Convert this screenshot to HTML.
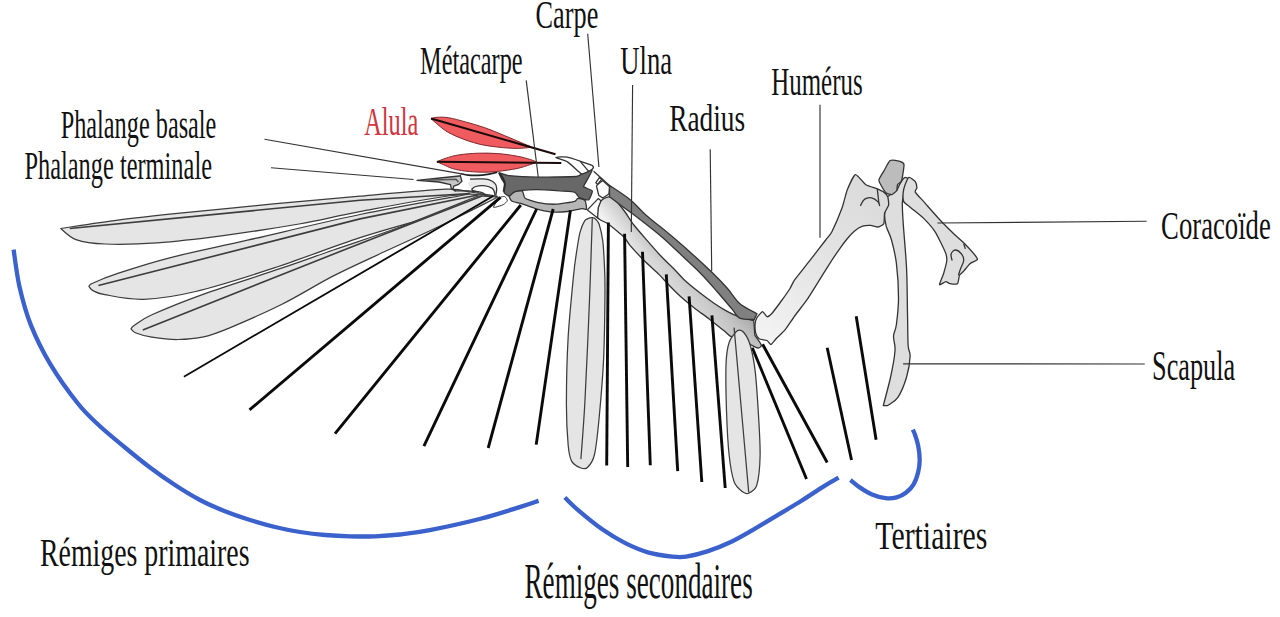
<!DOCTYPE html>
<html lang="fr"><head><meta charset="utf-8"><title>Aile d'oiseau</title>
<style>
html,body{margin:0;padding:0;background:#fff;}
body{width:1280px;height:617px;overflow:hidden;font-family:"Liberation Serif",serif;}
svg{display:block;}
text{font-family:"Liberation Serif",serif;font-size:40px;fill:#111;}
</style></head><body>
<svg width="1280" height="617" viewBox="0 0 1280 617">
<defs>
<linearGradient id="gUlna" gradientUnits="userSpaceOnUse" x1="600" y1="205" x2="750" y2="330"><stop offset="0" stop-color="#ffffff"/><stop offset="0.12" stop-color="#f4f4f4"/><stop offset="0.35" stop-color="#e0e0e0"/><stop offset="0.7" stop-color="#d4d4d4"/><stop offset="1" stop-color="#c8c8c8"/></linearGradient>
<linearGradient id="gUlna2" gradientUnits="userSpaceOnUse" x1="637" y1="260" x2="655.4" y2="237.6"><stop offset="0" stop-color="#000" stop-opacity="0"/><stop offset="0.4" stop-color="#000" stop-opacity="0.04"/><stop offset="1" stop-color="#000" stop-opacity="0.17"/></linearGradient>
<linearGradient id="gHum" gradientUnits="userSpaceOnUse" x1="760" y1="330" x2="885" y2="190"><stop offset="0" stop-color="#f2f2f2"/><stop offset="0.5" stop-color="#e4e4e4"/><stop offset="1" stop-color="#dadada"/></linearGradient>
</defs>
<rect width="1280" height="617" fill="#fff"/>

<g id="primaries" fill="#e5e5e5" stroke="#3c3c3c" stroke-width="1.25" stroke-linejoin="round">
<path d="M60.7,228.5C68.3,227.4 101.9,222.2 117.8,220.2C133.7,218.2 159.3,215.4 180,213.2C200.7,211 249.4,206.2 273.4,203.9C297.4,201.6 337,198.1 360,196.1C383,194.1 431.3,189.7 446,189.2C460.7,188.7 466.8,191.6 470,192L497,196L497,196C489.5,195.9 474.8,192.9 452,195.5C429.2,198.1 385.5,206.8 360,211.6C334.5,216.3 322.1,220 299,224C275.9,228 245.2,232.7 221.5,235.8C197.8,238.9 176.4,241.4 157,242.8C137.6,244.2 118.5,244.5 105,244C91.5,243.5 83.4,242.2 76,239.6C68.6,237 63.2,230.3 60.7,228.5Z"/>
<path d="M69.8,228.5L360,200.2L470,193.5" fill="none" stroke-width="1.6"/>
<path d="M89,286.6C89.6,286.1 87.7,285.5 92.5,283.3C97.3,281.1 104.9,277.6 117.8,273.4C130.7,269.1 148.1,263.3 169.7,257.8C191.3,252.3 215.8,247.4 247.5,240.2C279.2,233 322.9,222.2 360,214.5C397.1,206.8 451.7,197.4 470,194L497,196.5L497,196.5C485.8,199.9 452.8,210.2 430,217C407.2,223.8 386.1,229.1 360,237.6C333.9,246.1 300.8,259.2 273.4,268.2C246,277.2 217.2,286.3 195.6,291.5C174,296.7 158.8,298.8 143.7,299.3C128.6,299.8 113.2,296.1 104.8,294.6C96.3,293.2 95.6,291.9 93,290.6C90.4,289.3 89.7,287.3 89,286.6Z"/>
<path d="M98.4,285.5L360,218.9L478,195" fill="none" stroke-width="1.6"/>
<path d="M131,328.8C131.6,328.2 131,327.5 134.5,325.2C138,322.9 140.4,320 151.9,314.8C163.4,309.6 182.1,301.9 203.7,294.1C225.3,286.3 259.9,275.6 281.5,268.2C303.1,260.8 313.6,256.9 333.4,250C353.1,243.1 375.9,236 400,227C424.1,218 465,201.2 478,196L498,197L498,197C488.3,201.8 458.8,216.9 440,226C421.2,235.1 403.1,243 385.3,251.3C367.5,259.6 350.7,267 333.4,275.9C316.1,284.8 298.8,295.9 281.5,304.5C264.2,313.1 242.7,322.4 229.7,327.8C216.7,333.2 212.3,334.9 203.7,336.9C195,338.8 186.4,339.4 177.8,339.5C169.2,339.6 158.9,338.3 151.9,337.2C144.9,336.1 139.5,334.4 136,333C132.5,331.6 131.8,329.5 131,328.8Z"/>
<path d="M142.8,329.9L343.8,250L482,196" fill="none" stroke-width="1.6"/>
</g>
<g fill="#e5e5e5" stroke="#3c3c3c" stroke-width="1.25">
<path d="M592.4,217.7C591.3,217.6 589.1,218.1 588,218.6C586.9,219.1 585.6,219.3 584.5,221.1C583.4,222.9 581.1,228.3 580,232.4C578.9,236.5 577.5,246 576.6,251.7C575.7,257.4 574.7,263.7 573.6,275C572.5,286.3 569.2,319.1 568.2,336.4C567.2,353.7 566.4,390 566.4,404.5C566.4,419 567.5,437.9 568.2,445.5C568.9,453.1 570.1,458.4 571.8,461.4C573.5,464.4 578.8,467.2 580.9,468C583,468.8 585.9,469.1 587.7,467.3C589.5,465.5 593,461 594.5,454.5C596,448 597.9,430.9 599.1,418.2C600.3,405.5 602.8,376.1 603.6,359.1C604.4,342.1 604.9,303.4 605,290.9C605.1,278.4 604.7,271.7 604.4,265C604.1,258.3 603.4,245.8 602.7,240.4C602,235 600.1,227.3 599.2,224.5C598.3,221.7 596.9,220.4 596,219.5C595.1,218.6 593.5,217.8 592.4,217.7Z"/>
<path d="M592.3,218.2C591.8,231.8 590.7,269.7 589.5,300C588.3,330.3 586.4,373.5 585,400C583.6,426.5 581.6,449.2 580.9,459.1" fill="none"/>
</g>
<g id="bones" stroke="#333333" stroke-width="1.3" stroke-linejoin="round">
<path d="M596.5,217C596.7,215.8 597.6,209.9 598.2,207.7C598.8,205.5 599.6,202.2 601,200.8C602.4,199.4 606.7,197.2 608.4,196.9C610.1,196.6 612.7,197.7 614,198.6C615.3,199.5 617,201.6 618.5,203.5C620,205.4 623.3,209.6 625.4,212.5C627.5,215.4 631.3,221.7 633.9,225C636.5,228.3 641.2,233.7 644.6,237.6C648,241.5 655.3,250 659.2,254.2C663.1,258.4 670.4,265.4 673.8,268.8C677.2,272.2 681,276.8 684.4,280C687.8,283.2 695.6,289.5 699.5,292.6C703.4,295.7 710.4,300.8 714,303.3C717.6,305.8 723.4,309.3 726.7,311.1C730,312.9 734.8,315.2 738.4,316.5C742,317.8 751.7,320.1 753.8,320.6L754.9,335.4L754.9,335.4C755.7,336.7 760.8,343.2 761.2,344.9C761.6,346.6 759.5,348.1 758,348C756.5,347.9 751.3,345.1 749.6,343.8C747.9,342.5 747.1,338.9 745.4,338C743.7,337.1 739,337.2 737,337C735,336.8 732.4,337.3 730.6,336.4C728.8,335.5 726.7,332.9 723.8,330.6C720.9,328.3 713.1,321.9 709.2,318.9C705.3,315.9 698.5,311.3 694.6,308.2C690.7,305.1 683.4,299.1 680,296C676.6,292.9 671.7,287.9 668.9,285C666.1,282.1 662.4,277.8 659.2,274.6C656,271.4 648.5,264.9 644.6,261C640.7,257.1 632.6,248.5 630,245.4C627.4,242.3 626.7,239.9 625,238.1C623.3,236.3 619.8,233.5 617.6,231.6C615.4,229.7 610.6,225.5 608.3,224C606,222.5 602.1,220.9 600.5,220C598.9,219.1 597,217.4 596.5,217Z" fill="url(#gUlna)" stroke="none"/>
<path d="M596.5,217C596.7,215.8 597.6,209.9 598.2,207.7C598.8,205.5 599.6,202.2 601,200.8C602.4,199.4 606.7,197.2 608.4,196.9C610.1,196.6 612.7,197.7 614,198.6C615.3,199.5 617,201.6 618.5,203.5C620,205.4 623.3,209.6 625.4,212.5C627.5,215.4 631.3,221.7 633.9,225C636.5,228.3 641.2,233.7 644.6,237.6C648,241.5 655.3,250 659.2,254.2C663.1,258.4 670.4,265.4 673.8,268.8C677.2,272.2 681,276.8 684.4,280C687.8,283.2 695.6,289.5 699.5,292.6C703.4,295.7 710.4,300.8 714,303.3C717.6,305.8 723.4,309.3 726.7,311.1C730,312.9 734.8,315.2 738.4,316.5C742,317.8 751.7,320.1 753.8,320.6L754.9,335.4L754.9,335.4C755.7,336.7 760.8,343.2 761.2,344.9C761.6,346.6 759.5,348.1 758,348C756.5,347.9 751.3,345.1 749.6,343.8C747.9,342.5 747.1,338.9 745.4,338C743.7,337.1 739,337.2 737,337C735,336.8 732.4,337.3 730.6,336.4C728.8,335.5 726.7,332.9 723.8,330.6C720.9,328.3 713.1,321.9 709.2,318.9C705.3,315.9 698.5,311.3 694.6,308.2C690.7,305.1 683.4,299.1 680,296C676.6,292.9 671.7,287.9 668.9,285C666.1,282.1 662.4,277.8 659.2,274.6C656,271.4 648.5,264.9 644.6,261C640.7,257.1 632.6,248.5 630,245.4C627.4,242.3 626.7,239.9 625,238.1C623.3,236.3 619.8,233.5 617.6,231.6C615.4,229.7 610.6,225.5 608.3,224C606,222.5 602.1,220.9 600.5,220C598.9,219.1 597,217.4 596.5,217Z" fill="url(#gUlna2)"/>
<path d="M609.5,185.4C613,187.8 624.5,195.1 630.5,200C636.5,204.9 639.3,209.3 645.8,215C652.2,220.7 661.7,227.7 669.2,234C676.7,240.3 683.7,246.3 691,252.9C698.3,259.4 706.8,267.4 712.9,273.3C719,279.2 723,283.5 727.5,288.5C732,293.5 734.7,299.3 739.6,303.5C744.5,307.7 754.1,312 757,313.7L754.1,319.6L754.1,319.6C751.7,319.4 743.2,319.8 739.6,318.1C736,316.4 736.1,313.8 732.3,309.4C728.5,305 722.2,297.4 717,291.5C711.8,285.6 706.8,279.7 701.2,274C695.7,268.3 690.2,263.5 683.7,257.3C677.2,251.1 669.2,243.2 661.9,236.9C654.6,230.6 646.6,224.5 640,219.4C633.4,214.3 627.5,210.3 622.4,206.5C617.3,202.7 611.6,198.4 609.5,196.8Z" fill="#808080"/>
<path d="M887,197C886.6,200 884.7,209.9 884.6,214.8C884.5,219.7 885.1,222 886.2,226.2C887.4,230.4 889.8,233.8 891.5,240C893.2,246.2 895.2,253.6 896.4,263.3C897.6,273 898.5,288.1 898.5,298.3C898.5,308.5 897.2,318.2 896.4,324.5C895.6,330.8 893.7,331.8 893.5,336.2C893.3,340.6 895.5,344 895,350.8C894.5,357.6 892.6,367.9 890.6,377C888.6,386.1 884.5,400.8 883.3,405.6L887.7,405.6L887.7,405.6C889.4,404.2 894.8,402.2 897.9,397.4C901,392.6 904.6,383.8 906.6,377C908.6,370.2 909.9,361.9 910.1,356.6C910.4,351.3 908.5,352.3 908.1,345C907.7,337.7 907.8,325.5 907.5,312.9C907.2,300.3 907.3,284.2 906.6,269.2C905.9,254.2 903.9,234.1 903.2,222.9C902.5,211.7 902.1,207.3 902.4,201.9C902.7,196.5 903.8,194.2 904.8,190.5C905.8,186.8 908.1,182.2 908.1,180C908.1,177.8 906,177.2 904.8,177.6C903.6,178 902.1,180.2 900.8,182.4C899.4,184.6 897.4,189.2 896.7,190.5Z" fill="#dedede"/>
<path d="M908.9,177.4C909.9,177.1 914.5,180.5 915.3,181.6C916.1,182.7 916.9,186.8 916.9,187.9C916.9,189 914.6,190.7 915.3,192.1C916,193.5 921.2,198.8 923.7,201.6C926.2,204.4 937.5,217.3 940.5,220.5C943.5,223.7 950.8,230.9 953.2,233.2C955.6,235.5 962.6,241.6 964.7,243.7C966.8,245.8 972.9,252.6 974.2,254.2C975.5,255.8 977.8,258.6 977.4,259.5C977,260.4 971.4,262.5 970,263.7C968.6,264.9 964.8,269.9 963.7,271.1C962.7,272.3 960.1,274 959.5,275.3C958.9,276.6 958.4,282.9 957.4,283.7C956.4,284.5 951.2,283.9 950,283.7C948.8,283.5 946.8,281.5 945.8,281.6C944.8,281.7 939.7,285.5 939.5,284.7C939.3,283.9 943,275.6 943.7,273.2C944.4,270.8 946.6,262.6 946.8,260.5C946.9,258.4 946.4,254.9 945.2,252.1C944.1,249.3 937.4,235.5 935.3,232.1C933.1,228.7 926.1,220.8 923.7,218.4C921.3,216 913.1,209.6 911.1,207.9C909.1,206.2 904.5,203.1 903.7,201.6C902.9,200.1 903,194.9 903.1,193.2C903.2,191.5 904.4,186.6 905,185C905.6,183.4 907.9,177.7 908.9,177.4Z" fill="#dedede"/>
<path d="M952.1,260.5C951.9,259.4 950.6,255.9 951.1,254.2C951.6,252.4 953.5,250 955.3,250C957,250 960.2,252.4 961.6,254.2C963,255.9 963.9,258.1 963.7,260.5C963.5,262.9 961.4,266.4 960.5,268.9C959.6,271.4 958.8,274.2 958.4,275.3" fill="none"/>
<path d="M963.7,243.7L965.4,248.9" fill="none"/>
<path d="M756.8,317.8C757.5,316.7 761.6,311.7 762.5,311.6C763.4,311.5 766.2,316.5 767,316.7C767.8,316.9 770.4,315.1 771.6,313.8C772.8,312.5 778.9,304.3 780.6,302C782.3,299.7 788.4,291 789.7,289C791,287 792.8,282.4 794.6,279.9C796.4,277.4 806.3,265.1 809.2,261.4C812.1,257.7 823.6,242.7 825.7,240C827.8,237.3 830.4,234.7 831.9,231.7C833.4,228.7 840.7,211.6 842.1,207.8C843.5,204 846,193 847.2,190C848.4,187 853.7,175.1 855.4,174.6C857.1,174.1 863.9,183.5 865.9,184.8C867.9,186.1 875.7,188.2 877.3,188.9C878.9,189.6 882.8,191.4 883.8,192.1C884.8,192.8 887.4,195.8 887.8,197C888.2,198.2 888.9,203.6 888.6,205.1C888.3,206.6 885,211.5 884.6,213.2C884.2,214.9 884.4,222.4 883.8,223.7C883.2,225 879.3,226.8 878.1,227C876.9,227.2 872.2,225.5 870.8,225.4C869.4,225.3 864.2,225.7 862.7,226.2C861.2,226.7 856,229.8 854.6,231C853.2,232.2 848.3,237.4 847,239C845.7,240.6 841.7,245.9 840,248.3C838.3,250.7 830.5,262.3 828.6,265.3C826.7,268.3 820.9,277.7 818.9,280.9C816.9,284.1 808.9,297.1 806.7,300.2C804.5,303.3 797.4,312.3 795.4,315C793.4,317.7 787,327.5 785.2,329.7C783.4,331.9 777.4,337.4 776.1,338.8C774.8,340.2 771.8,344.3 771,344.5C770.2,344.7 768.1,341 767,340.5C765.9,340 760.1,339.5 759.1,338.8C758.1,338.1 756.1,334.5 755.7,333.1C755.3,331.7 755,325.4 755.1,324C755.2,322.6 756.1,318.9 756.8,317.8Z" fill="url(#gHum)"/>
<path d="M860.3,205.9C861,204.8 862.4,200.8 864.3,199.4C866.2,198.1 869.3,197.4 871.6,197.8C873.9,198.2 876.8,200.6 878.1,201.9C879.5,203.2 879.4,205.2 879.7,205.9" fill="none"/>
<path d="M877.3,188.9L878.9,203.5" fill="none"/>
<path d="M890.2,160.5C891.8,159.5 898.6,160.9 900,161.3C901.4,161.7 903.8,162.7 904,164.6C904.2,166.5 902.2,178.8 901.6,180.8C901,182.8 898,183.8 897.5,184.8C897,185.8 897.3,189.5 896.7,190.5C896.1,191.5 892.9,194.4 891.9,194.6C890.9,194.8 887.3,193.8 886.2,192.9C885.1,192 882,187 881.3,185.7C880.6,184.4 878.6,181.5 878.9,180C879.1,178.5 882.7,173 883.8,171.1C884.9,169.2 888.6,161.5 890.2,160.5Z" fill="#bcbcbc"/>
<path d="M509.2,196.2C509.4,195.2 513,192.3 514.3,191.8C515.6,191.3 521.2,190.3 522.3,191C523.4,191.7 523.6,197.1 525.2,198.3C526.8,199.5 535.2,202.1 538.3,202.7C541.4,203.3 552.1,204.3 555.8,204.2C559.4,204.1 572.6,201.9 574.8,201.3C577,200.7 576.7,198.4 577.7,198.3C578.7,198.2 584.1,199.4 585,200.5C585.9,201.6 586.8,208.5 586.5,209.3C586.2,210.1 584,208.4 582.1,208.6C580.2,208.8 570.7,211.2 567.5,211.5C564.3,211.8 553.2,212.1 550,211.8C546.8,211.5 538.3,209.4 535.4,208.6C532.5,207.8 523.1,204.1 520.8,203.4C518.5,202.7 513.3,202 512.1,201.3C510.9,200.6 509,197.1 509.2,196.2Z" fill="#b6b6b6"/>
<path d="M499,172.8C499.5,172.5 506.3,175.4 509.2,175.7C512.1,176 533.3,177.1 538.3,177.2C543.3,177.3 573,176.8 576.3,176.5C579.6,176.2 580.9,174.3 582.1,173.8C583.3,173.3 592.1,169.2 592.3,169.9C592.5,170.7 585.7,182.5 585,183.8C584.3,185.1 583.1,186.2 583.6,186.7C584.1,187.2 591.9,190 592.3,191C592.7,192 589.7,199.3 588.7,199.8C587.7,200.3 580.1,198 579.2,197.6C578.3,197.2 577.4,195.1 577,194.7C576.6,194.3 576.3,192.2 573.4,191.8C570.5,191.4 542.1,189.7 538.3,189.6C534.5,189.5 524.1,190.1 522.3,190.3C520.5,190.5 515.3,191.4 514.3,191.8C513.3,192.2 510,196.1 509.2,196.2C508.4,196.3 504.4,193.4 504.1,192.5C503.8,191.6 505,184.8 504.8,183.8C504.6,182.8 502.3,180.2 501.9,179.4C501.5,178.6 498.5,173.1 499,172.8Z" fill="#686868"/>
<path d="M555.8,157.5C555.8,157 564.4,156.7 567.5,157.2C570.6,157.7 579.2,160.9 582.1,161.9C585,162.9 591,164.7 592.3,165.5C593.6,166.3 593.4,167.7 593,168.4C592.6,169.1 590,170.8 588.7,171.4C587.4,172 583.2,173.7 582.1,173.8C581,173.9 580.9,173.5 579.2,172.1C577.5,170.7 570.2,163.6 567.5,161.9C564.8,160.2 555.8,158 555.8,157.5Z" fill="#fff"/>
<path d="M580.6,161.9L588.7,171.4" fill="none"/>
<path d="M593.6,171.3L609.5,185.5" fill="none"/>
<path d="M597.6,184.4L602.7,180.4L609.5,186.7L608.9,194L602.7,198L598.7,195.2L596.5,186.1Z" fill="#fff"/>
<path d="M595.9,182.7L599.3,177.6L601.6,179.3L597.6,184.4Z" fill="#fff"/>
<path d="M587.4,209.9L598.2,198.6L601,200.8L598.2,207.7L597.6,217.9Z" fill="#fff"/>
<path d="M417,180.4L440,178L459.3,176L460.3,175.5L461.9,181.2L458.6,184.4L453.8,186.1L453,188.9L455.4,190.9L451.3,188.6L450.5,184.6L438.9,182Z" fill="#c6c6c6"/>
<path d="M426,180.3L456,179.3L458.5,182" fill="none" stroke="#555" stroke-width="1.6"/>
<path d="M453,188.9L455.4,190.9L468.4,190.9L479,192" fill="none"/>
<path d="M470,179.2C471.7,179.1 476.9,178.8 480,178.9C483.1,179 486.1,178.8 488.6,179.6C491.1,180.4 493.8,182.1 495.1,183.6C496.5,185.1 496.6,186.6 496.7,188.5C496.8,190.4 496,193.9 495.9,195L495.1,195.8C495,195.1 494.8,193 494.3,191.7C493.8,190.4 493.6,189.1 491.9,188.1C490.1,187.1 486.5,186 483.8,185.7C481.1,185.4 477.7,185.9 475.7,186.5C473.7,187.1 472.3,188.8 471.6,189.3L468,184Z" fill="#ebebeb" stroke="none"/>
<path d="M470,179.2C471.7,179.1 476.9,178.8 480,178.9C483.1,179 486.1,178.8 488.6,179.6C491.1,180.4 493.8,182.1 495.1,183.6C496.5,185.1 496.6,186.6 496.7,188.5C496.8,190.4 496,193.9 495.9,195" fill="none"/>
<path d="M495.1,195.8C495,195.1 494.8,193 494.3,191.7C493.8,190.4 493.6,189.1 491.9,188.1C490.1,187.1 486.5,186 483.8,185.7C481.1,185.4 477.7,185.9 475.7,186.5C473.7,187.1 472.3,188.8 471.6,189.3" fill="none"/>
<path d="M471.6,189.3C472,189.6 472.2,190.4 474,190.9C475.8,191.4 480.2,191.9 482.1,192.6C484,193.3 484.8,194.6 485.4,195" fill="none"/>
<path d="M460.3,173.6C461.6,173.8 465.2,174.8 468.1,175.1C471,175.4 474.6,175.5 477.8,175.4C481,175.3 484.2,174.9 487.5,174.4C490.8,173.9 495.7,172.6 497.3,172.2" fill="none" stroke="#222" stroke-width="1.7"/>
<path d="M499,172.8C499.6,173.5 501.4,175.4 502.4,177.2C503.4,179 504.6,181.2 504.8,183.6C505,186 503.8,190.3 503.6,191.7" fill="none" stroke="#2a2a2a" stroke-width="2"/>
<path d="M493.5,207.1C493.6,206.4 496.2,202.1 497,201C497.8,199.9 499.1,197.9 500,197.4C500.9,196.9 503.9,196.2 504.8,196.6C505.7,197 507.5,199.8 507.3,200.7C507.1,201.6 504.5,204 503.2,204.7C501.9,205.4 497,206.8 495.9,207.1C494.8,207.4 493.4,207.8 493.5,207.1Z" fill="#fff" stroke-width="1"/>
</g>
<g id="lines" stroke="#0a0a0a" stroke-width="2.9" stroke-linecap="butt" fill="none">
<path d="M493.2,196L183.9,376.7" stroke-width="1.8"/>
<path d="M500.5,197.3L249.5,409.9" stroke-width="2.9"/>
<path d="M520.8,205L335,433.7" stroke-width="2.9"/>
<path d="M536.6,209L423.9,446.2" stroke-width="2.9"/>
<path d="M553.2,209L488.2,448" stroke-width="2.9"/>
<path d="M570.4,210.2L536.2,444.6" stroke-width="2.9"/>
<path d="M608.4,222.4L606.7,465.4"/>
<path d="M624.6,233.8L627.7,466.9"/>
<path d="M642.5,251.8L650.3,465.2"/>
<path d="M666.3,274.3L677.7,471.2"/>
<path d="M689.1,296.4L701.8,482"/>
<path d="M711.9,315.4L725.2,488"/>
<path d="M752.3,347.7L806.5,479"/>
<path d="M762.6,344.3L827.2,462.5"/>
<path d="M827.2,347.7L851.5,460"/>
<path d="M856.2,316.3L876.1,439.7"/>
</g>
<g fill="#e5e5e5" stroke="#3c3c3c" stroke-width="1.25">
<path d="M737.3,330.8C735.4,332.1 730.7,337.7 729.2,342.2C727.7,346.7 726.3,355.4 726,364.9C725.7,374.4 726.2,401.5 726.6,413.6C727,425.7 728.2,446.7 729.2,455.8C730.2,464.9 732.4,477 734.1,481.8C735.8,486.6 740.3,490.1 742.2,491.6C744.1,493.1 746.8,494.1 748.7,493.2C750.6,492.3 755.3,490.1 756.8,485.1C758.3,480.1 759.9,465.3 760.1,455.8C760.3,446.3 759.1,424.9 758.4,413.6C757.7,402.3 756.3,380.5 755.2,371.4C754.1,362.3 751.8,350.7 750.3,345.5C748.8,340.3 745.5,334.5 743.8,332.5C742.1,330.5 739.2,329.5 737.3,330.8Z"/>
<path d="M734.1,327.6L748.7,492.2" fill="none"/>
</g>
<g id="alula" fill="#ef5b5e" stroke="#7e2a2e" stroke-width="1">
<path d="M431,118.6C432,118.4 434,117.4 436.9,117.3C439.8,117.2 443.8,116.9 448.5,117.7C453.2,118.5 459.3,120.2 465.4,121.9C471.4,123.6 478.3,125.4 484.8,127.7C491.3,130 498.2,133 504.3,135.5C510.4,138 516.6,140.7 521.1,142.6C525.6,144.5 529.8,146.3 531.5,147.1L531.5,147.3C529.1,147.5 522.8,148.4 517.2,148.4C511.6,148.4 504.3,147.8 497.8,147.1C491.3,146.3 484.8,145.5 478.3,143.9C471.8,142.3 464.3,139.6 458.9,137.4C453.5,135.2 449.6,133.2 445.9,130.9C442.2,128.6 439.4,125.8 436.9,123.8C434.4,121.8 432,119.5 431,118.6Z"/>
<path d="M436.9,161.8C438.4,161.2 442.2,159.3 445.9,158.2C449.6,157 453.5,155.7 458.9,154.9C464.3,154.1 471.8,153.4 478.3,153.2C484.8,153 491.3,153.1 497.8,153.6C504.3,154.1 511.8,155.2 517.2,156.2C522.6,157.2 527,158.5 530.2,159.5C533.5,160.5 535.6,161.6 536.7,162L536.7,162.3C535.6,162.7 533.5,163.6 530.2,164.6C527,165.6 522.6,167.4 517.2,168.5C511.8,169.6 503.6,170.8 497.8,171.4C492,172 487.6,172.2 482.2,172.2C476.8,172.1 470.4,171.7 465.4,171.1C460.4,170.5 456.1,169.6 452.4,168.5C448.7,167.4 445.9,165.7 443.3,164.6C440.7,163.5 438,162.3 436.9,161.8Z"/>
</g>
<path d="M431,118.6L555.5,154.3M436.9,161.8L561.3,163" stroke="#1a0a0a" stroke-width="2.1" fill="none"/>
<g id="leaders" stroke="#333" stroke-width="1.15" fill="none">
<path d="M264.5,139.3L460.3,173.6"/>
<path d="M271,167.8L413.6,179.5"/>
<path d="M526.2,80.4L538.3,177.2"/>
<path d="M587.7,33.7L598.9,167"/>
<path d="M632.6,85L631.3,232"/>
<path d="M710.2,149.3L711.7,271.1"/>
<path d="M820,104.7L820,237.8"/>
<path d="M937.4,223L1146.6,221.3"/>
<path d="M903.1,363.8L1144.7,364"/>
</g>
<g id="arcs" stroke="#3a61cc" stroke-width="4.3" fill="none" stroke-linecap="butt">
<path d="M13.6,249.7C14.6,255.9 16.6,274 19.5,286.7C22.4,299.4 25.9,312.6 31.1,325.6C36.3,338.6 42.8,351.6 50.6,364.6C58.4,377.6 69.7,393.2 77.9,403.5C86.1,413.8 92.2,419 100,426.3C107.8,433.6 116.7,440.6 125,447.5C133.3,454.4 141.7,461.2 150,467.5C158.3,473.8 166.7,479.6 175,485C183.3,490.4 191.7,495.6 200,500C208.3,504.4 216.7,508 225,511.3C233.3,514.6 241.7,517.4 250,520C258.3,522.6 266.7,525 275,527C283.3,529 291.7,530.7 300,532C308.3,533.3 316.7,534.3 325,535C333.3,535.7 341.7,536.1 350,536.3C358.3,536.5 366.7,536.6 375,536.3C383.3,536 390.9,535.5 400,534.5C409.1,533.5 416.1,532.9 429.7,530.2C443.3,527.5 466.4,522.4 481.5,518.5C496.6,514.6 510.9,509.8 520.4,506.9C529.9,504 535.6,501.9 538.6,500.9"/>
<path d="M564.8,497.5C567.1,499.6 572.2,505.1 578.4,510.4C584.6,515.7 594.1,523.6 601.9,529.1C609.7,534.6 617.5,539.3 625.3,543.2C633.1,547.1 640.9,550.4 648.7,552.6C656.5,554.8 666,555.9 672.2,556.6C678.5,557.3 680.4,557.5 686.2,556.6C692.1,555.7 699.9,553.8 707.3,551.4C714.7,549 723,545.7 730.8,542C738.6,538.3 746.4,533.6 754.2,529.1C762,524.6 769.8,519.8 777.6,515.1C785.4,510.4 793.3,505.9 801.1,501C808.9,496.1 818.2,489.7 824.5,485.8C830.8,481.9 836.2,479 838.6,477.6"/>
<path d="M850.4,480C852,481.2 856.1,485 859.7,487.4C863.3,489.8 867.6,492.6 872,494.4C876.4,496.2 881.7,497.7 885.8,498.2C889.9,498.7 893.2,498.3 896.6,497.4C900,496.5 903.1,495 905.9,492.8C908.7,490.6 911.5,487.8 913.6,484.3C915.7,480.8 917.2,476.1 918.2,472C919.2,467.9 919.7,464.1 919.7,459.7C919.7,455.3 919,449.9 918.2,445.8C917.4,441.7 916,437.7 915.1,435C914.2,432.3 913.2,430.5 912.8,429.6"/>
</g>
<text x="535.6" y="28" textLength="62.7" lengthAdjust="spacingAndGlyphs">Carpe</text>
<text x="420.1" y="73.9" textLength="102.5" lengthAdjust="spacingAndGlyphs">Métacarpe</text>
<text x="620.3" y="73.9" textLength="51.7" lengthAdjust="spacingAndGlyphs">Ulna</text>
<text x="771.3" y="94.7" textLength="91.3" lengthAdjust="spacingAndGlyphs">Humérus</text>
<text x="669.2" y="131.1" textLength="76" lengthAdjust="spacingAndGlyphs" style="font-size:38px;">Radius</text>
<text x="364.2" y="134.9" textLength="54.2" lengthAdjust="spacingAndGlyphs" style="fill:#cf3640;">Alula</text>
<text x="60.7" y="138" textLength="155.7" lengthAdjust="spacingAndGlyphs">Phalange basale</text>
<text x="24.4" y="178.6" textLength="187.6" lengthAdjust="spacingAndGlyphs">Phalange terminale</text>
<text x="1161.1" y="238.6" textLength="109.7" lengthAdjust="spacingAndGlyphs">Coracoïde</text>
<text x="1152.1" y="380.4" textLength="83.1" lengthAdjust="spacingAndGlyphs" style="font-size:43px;">Scapula</text>
<text x="40" y="566.3" textLength="209.5" lengthAdjust="spacingAndGlyphs">Rémiges primaires</text>
<text x="524.5" y="598" textLength="228.2" lengthAdjust="spacingAndGlyphs" style="font-size:50px;">Rémiges secondaires</text>
<text x="875.3" y="548.9" textLength="112.1" lengthAdjust="spacingAndGlyphs" style="font-size:41px;">Tertiaires</text>
</svg></body></html>
